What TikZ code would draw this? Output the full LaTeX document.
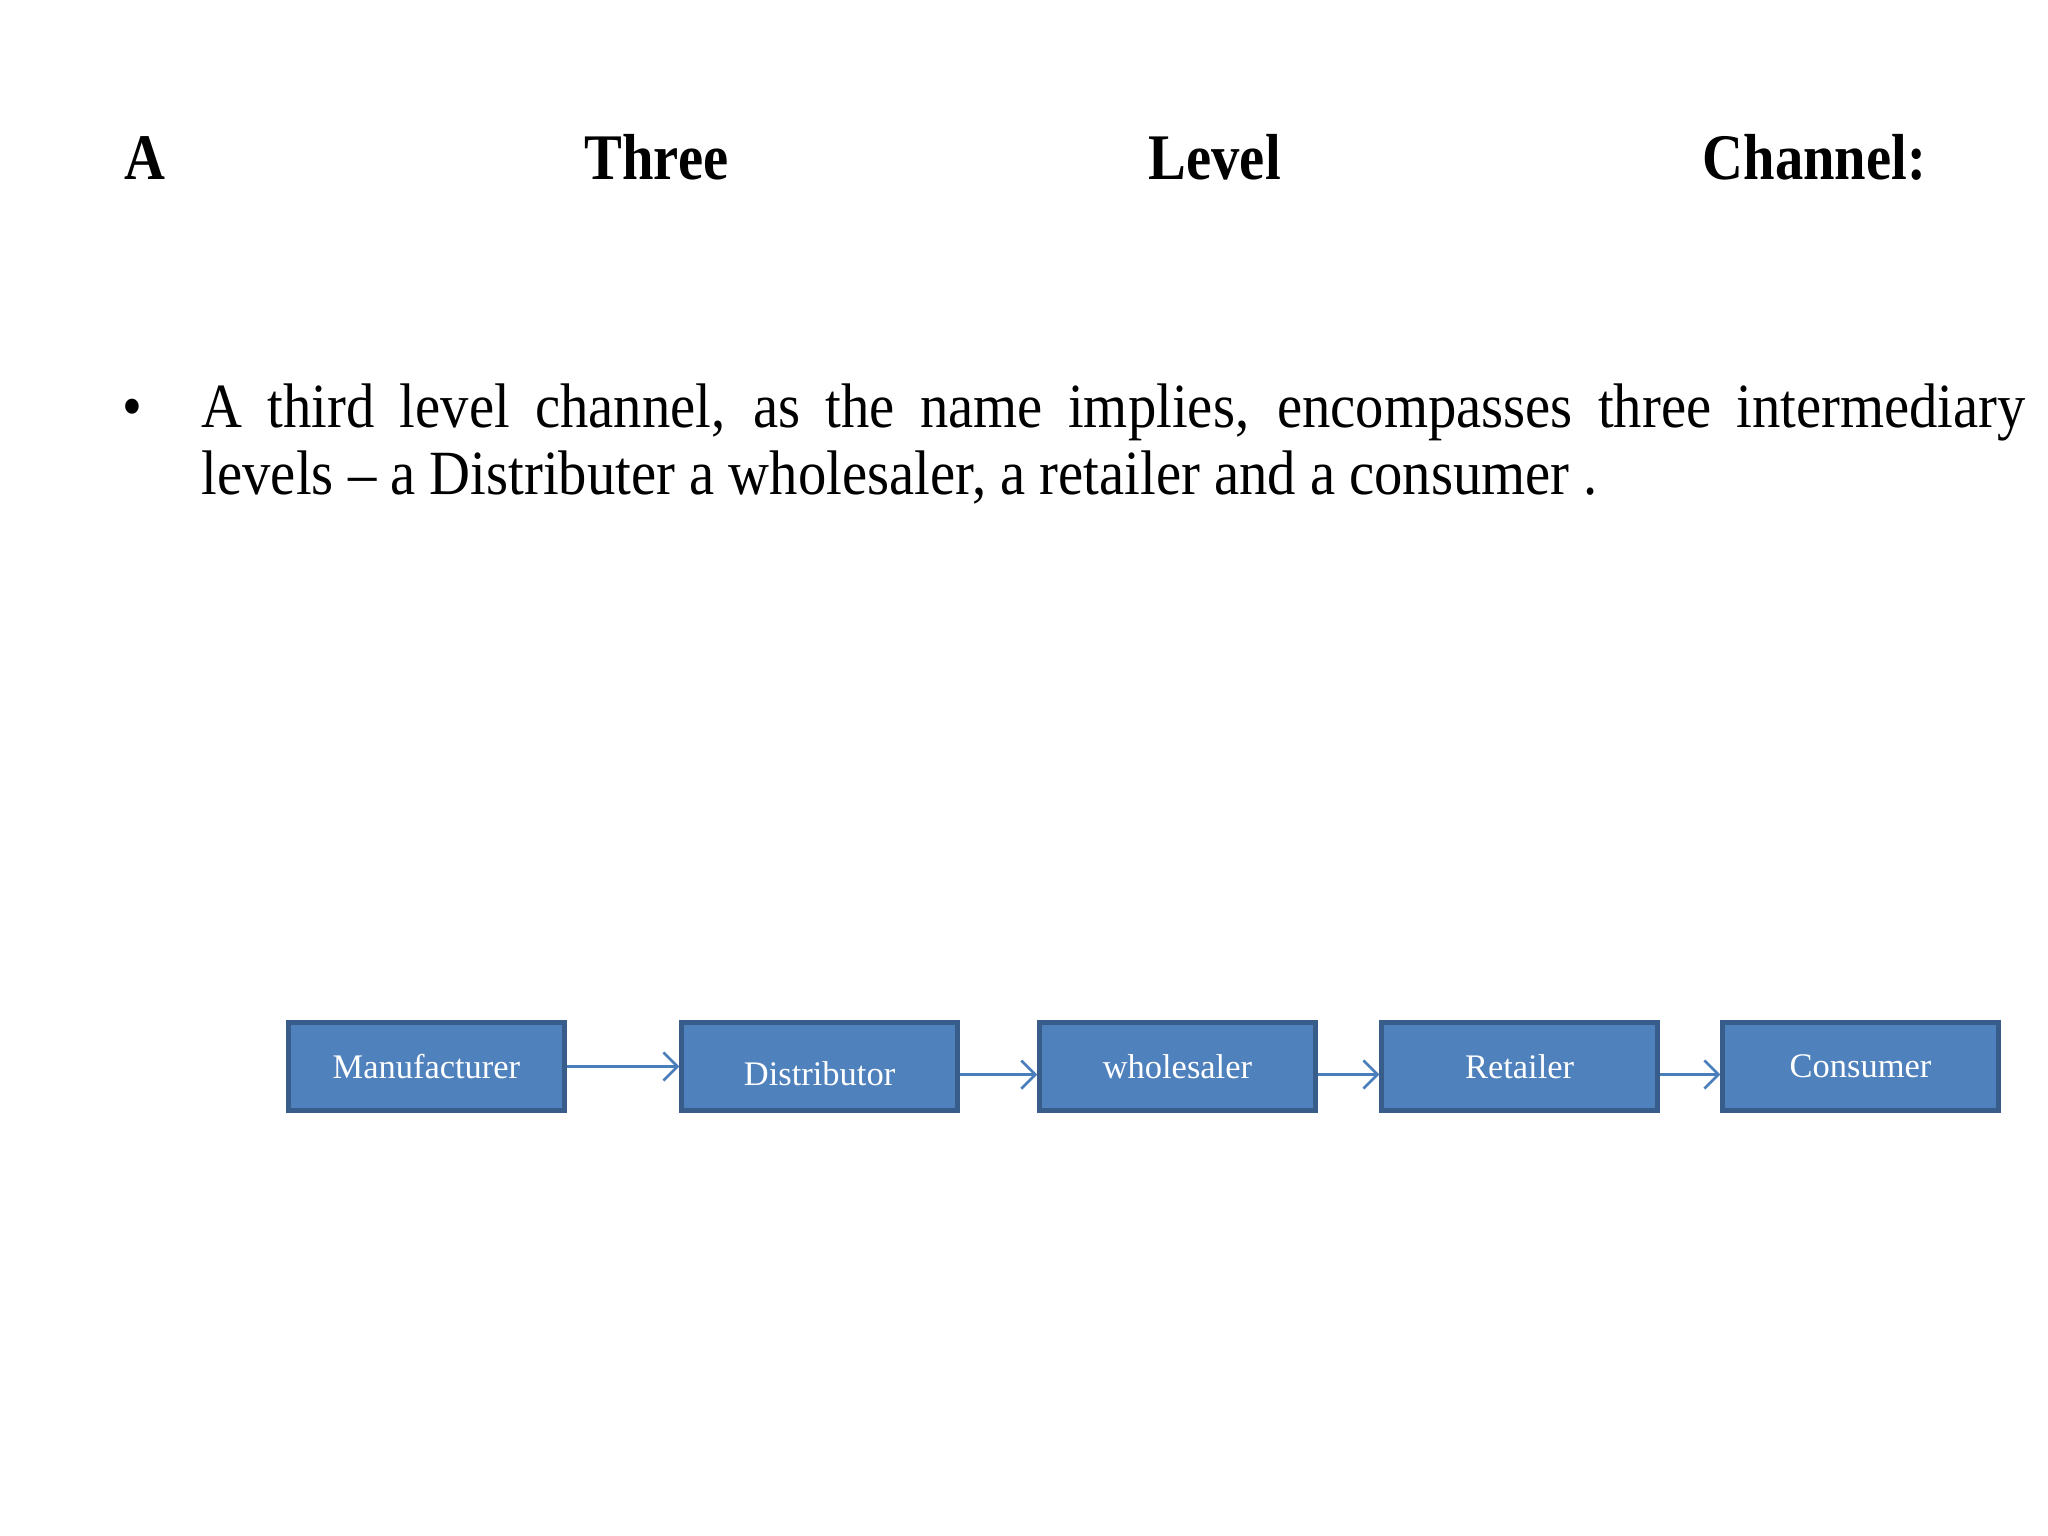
\documentclass[tikz,border=0pt]{standalone}
\usepackage{fontspec}
\setmainfont{Liberation Serif}
\newfontfamily\titlefont[FakeStretch=0.87]{Liberation Serif}
\newfontfamily\bodyfont[FakeStretch=0.9]{Liberation Serif}
\usetikzlibrary{arrows.meta}
\definecolor{boxfill}{HTML}{4F81BD}
\definecolor{boxline}{HTML}{385D8A}
\definecolor{arrowc}{HTML}{4A7EBB}
\tikzset{
  stage/.style={draw=boxline, line width=1.3pt, fill=boxfill, minimum width=2.756cm, minimum height=0.875cm, inner sep=0pt, text=white, font=\fontsize{9.8}{11}\selectfont},
  flow/.style={draw=arrowc, line width=0.75pt, -{Straight Barb[length=4pt,width=8pt,line width=0.75pt]}},
  titleword/.style={anchor=base west, inner sep=0pt, font=\titlefont\fontsize{18.5}{22}\selectfont\bfseries},
  bodyline/.style={anchor=base west, inner sep=0pt, font=\bodyfont\fontsize{17.9}{21}\selectfont}
}
\begin{document}
\begin{tikzpicture}[x=0.01cm, y=-0.01cm]
\useasboundingbox (0,0) rectangle (2048,1536);
% title
\node[titleword] (tA) at (124,179) {A};
\node[titleword] (tThree) at (584,179) {Three};
\node[titleword] (tLevel) at (1148,179) {Level};
\node[titleword] (tChannel) at (1702,179) {Channel:};
% bullet text
\node[bodyline] (bul) at (122,427) {•};
\node[bodyline] (l1) at (201,427) {\makebox[18.23cm][s]{A third level channel, as the name implies, encompasses three intermediary}};
\node[bodyline] (l2) at (201,494) {levels – a Distributer a wholesaler, a retailer and a consumer .};
% boxes
\node[stage] (m) at (426.4,1066.5) {Manufacturer};
\node[stage] (d) at (819.6,1066.5) {\raisebox{-0.45ex}[\height][\depth]{Distributor}};
\node[stage] (w) at (1177.4,1066.5) {wholesaler};
\node[stage] (r) at (1519.6,1066.5) {Retailer};
\node[stage] (c) at (1860.5,1066.5) {Consumer};
% arrows
\draw[flow] (m.east) -- (d.west);
\draw[flow] ([yshift=-0.08cm]d.east) -- ([yshift=-0.08cm]w.west);
\draw[flow] ([yshift=-0.08cm]w.east) -- ([yshift=-0.08cm]r.west);
\draw[flow] ([yshift=-0.08cm]r.east) -- ([yshift=-0.08cm]c.west);
\end{tikzpicture}
\end{document}
